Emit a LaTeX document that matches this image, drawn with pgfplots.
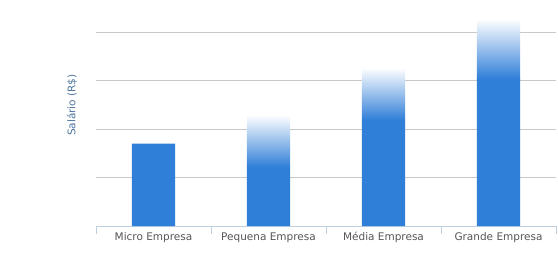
\documentclass[border=0pt]{standalone}
\usepackage{pgfplots}
\pgfplotsset{compat=1.18}
\usepackage{fontspec}
\setmainfont{DejaVu Sans}
\definecolor{barblue}{HTML}{2F7ED8}
\definecolor{gridgray}{HTML}{C8C8C8}
\definecolor{axisline}{HTML}{C0D0E0}
\definecolor{titleblue}{HTML}{4D759E}
\definecolor{labelgray}{HTML}{555555}
\begin{document}
\begin{tikzpicture}
\begin{axis}[
  scale only axis,
  width=460pt, height=226pt,
  xmin=-0.5, xmax=3.5,
  ymin=0, ymax=4.66,
  axis x line*=bottom,
  axis y line*=left,
  y axis line style={draw=none},
  x axis line style={draw=axisline, line width=0.8pt},
  xtick={0,1,2,3},
  xticklabels={Micro Empresa, Pequena Empresa, Média Empresa, Grande Empresa},
  minor xtick={-0.5,0.5,1.5,2.5,3.5},
  major tick length=0pt,
  minor tick length=8pt,
  tick align=outside,
  minor x tick style={draw=axisline, line width=0.8pt},
  ytick={1,2,3,4},
  yticklabels={},
  ytick style={draw=none},
  ymajorgrids,
  grid style={draw=gridgray, line width=0.8pt},
  xticklabel style={font=\fontsize{10.5}{12}\selectfont, text=labelgray, yshift=-3pt},
  ylabel={Salário (R\$)},
  ylabel style={at={(axis description cs:0,0.535)}, anchor=center, yshift=24pt, font=\fontsize{10.5}{12}\selectfont, text=titleblue},
]
% solid lower part of each bar
\addplot[ybar, bar width=0.375, bar shift=0pt, fill=barblue, draw=none] coordinates {(0,1.70) (1,1.21) (2,2.18) (3,3.03)};
% gradient top parts (one rectangle per bar, each with its own shading)
\addplot[draw=none, top color=white, bottom color=barblue] coordinates {(0.8125,1.21) (1.1875,1.21) (1.1875,2.29) (0.8125,2.29) (0.8125,1.21)};
\addplot[draw=none, top color=white, bottom color=barblue] coordinates {(1.8125,2.18) (2.1875,2.18) (2.1875,3.26) (1.8125,3.26) (1.8125,2.18)};
\addplot[draw=none, top color=white, bottom color=barblue] coordinates {(2.8125,3.03) (3.1875,3.03) (3.1875,4.27) (2.8125,4.27) (2.8125,3.03)};
\end{axis}
\useasboundingbox (-96pt,-30pt) rectangle (462pt,226pt);
\end{tikzpicture}
\end{document}
